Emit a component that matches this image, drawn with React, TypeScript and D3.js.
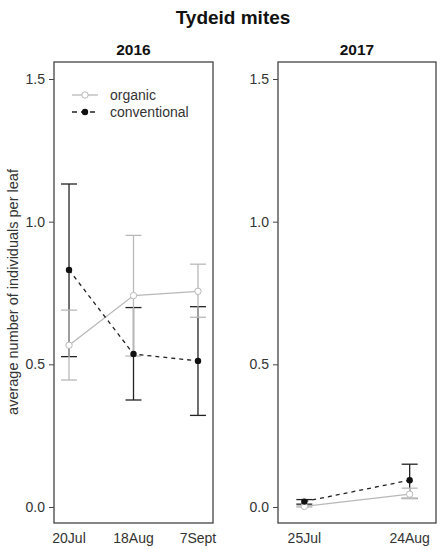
import React, { useEffect, useRef } from 'react';
import * as d3 from 'd3';

// 2016 panel
const dates2016 = ['20Jul', '18Aug', '7Sept'];
const organic2016 = [0.567, 0.741, 0.756];
const organic2016Lo = [0.445, 0.529, 0.665];
const organic2016Hi = [0.69, 0.952, 0.851];
const conv2016 = [0.831, 0.536, 0.512];
const conv2016Lo = [0.527, 0.375, 0.321];
const conv2016Hi = [1.132, 0.699, 0.702];

// 2017 panel
const dates2017 = ['25Jul', '24Aug'];
const organic2017 = [0.002, 0.045];
const organic2017Lo = [0.0, 0.03];
const organic2017Hi = [0.004, 0.066];
const conv2017 = [0.019, 0.094];
const conv2017Lo = [0.01, 0.03];
const conv2017Hi = [0.026, 0.15];

const yTicks = [0, 0.5, 1.0, 1.5];
const seriesNames = ['organic', 'conventional'];

const GREY = '#b8b8b8';
const DARK = '#111';
const FONT = 'Liberation Sans, Arial, sans-serif';

interface Series {
  values: number[];
  lo: number[];
  hi: number[];
}

const App: React.FC = () => {
  const svgRef = useRef<SVGSVGElement>(null);

  useEffect(() => {
    if (!svgRef.current) return;
    const svg = d3.select(svgRef.current);
    svg.selectAll('*').remove();

    const top = 62;
    const bottom = 523;

    const yScale = d3.scaleLinear().domain([0, 1.5]).range([507, 79]);

    const drawPanel = (
      left: number,
      right: number,
      title: string,
      dates: string[],
      pad: number,
      organic: Series,
      conv: Series,
      legend: boolean
    ) => {
      const g = svg.append('g');
      const idx = dates.map((_, i) => i);
      const xScale = d3.scaleLinear()
        .domain([-pad, dates.length - 1 + pad])
        .range([left, right]);

      // box
      g.append('rect')
        .attr('x', left)
        .attr('y', top)
        .attr('width', right - left)
        .attr('height', bottom - top)
        .attr('fill', 'none')
        .attr('stroke', '#444')
        .attr('stroke-width', 1.3);

      // panel title
      g.append('text')
        .attr('x', (left + right) / 2)
        .attr('y', 55)
        .attr('text-anchor', 'middle')
        .style('font-family', FONT)
        .style('font-weight', 'bold')
        .style('font-size', '15.5px')
        .style('fill', '#111')
        .text(title);

      // y axis
      const yAxis = g.append('g')
        .attr('transform', `translate(${left},0)`)
        .call(d3.axisLeft(yScale).tickValues(yTicks).tickFormat(d3.format('.1f')).tickSize(5).tickPadding(4));
      yAxis.select('.domain').remove();
      yAxis.selectAll('line').attr('stroke', '#444');
      yAxis.selectAll('text')
        .style('font-family', FONT)
        .style('font-size', '14px')
        .style('fill', '#333');

      // x labels
      g.selectAll('.xlab')
        .data(dates)
        .enter()
        .append('text')
        .attr('x', (_, i) => xScale(i))
        .attr('y', 543)
        .attr('text-anchor', 'middle')
        .style('font-family', FONT)
        .style('font-size', '14px')
        .style('fill', '#333')
        .text(d => d);

      const capW = 8;
      const drawBars = (s: Series, color: string) => {
        idx.forEach(i => {
          const x = xScale(i);
          g.append('line')
            .attr('x1', x).attr('x2', x)
            .attr('y1', yScale(s.hi[i])).attr('y2', yScale(s.lo[i]))
            .attr('stroke', color).attr('stroke-width', 1.3);
          [s.hi[i], s.lo[i]].forEach(v => {
            g.append('line')
              .attr('x1', x - capW).attr('x2', x + capW)
              .attr('y1', yScale(v)).attr('y2', yScale(v))
              .attr('stroke', color).attr('stroke-width', 1.3);
          });
        });
      };

      const line = d3.line<number>()
        .x(i => xScale(i))
        .y(i => 0);

      drawBars(conv, '#222');
      drawBars(organic, GREY);

      // organic line + points
      g.append('path')
        .datum(idx)
        .attr('fill', 'none')
        .attr('stroke', GREY)
        .attr('stroke-width', 1.3)
        .attr('d', line.y(i => yScale(organic.values[i])));

      g.append('path')
        .datum(idx)
        .attr('fill', 'none')
        .attr('stroke', '#222')
        .attr('stroke-width', 1.3)
        .attr('stroke-dasharray', '4,4')
        .attr('d', line.y(i => yScale(conv.values[i])));

      g.selectAll('.org-dot')
        .data(idx)
        .enter()
        .append('circle')
        .attr('cx', i => xScale(i))
        .attr('cy', i => yScale(organic.values[i]))
        .attr('r', 3.2)
        .attr('fill', '#fff')
        .attr('stroke', GREY)
        .attr('stroke-width', 1);

      g.selectAll('.conv-dot')
        .data(idx)
        .enter()
        .append('circle')
        .attr('cx', i => xScale(i))
        .attr('cy', i => yScale(conv.values[i]))
        .attr('r', 3.2)
        .attr('fill', DARK);

      if (legend) {
        const lg = g.append('g').attr('transform', `translate(${left + 18}, 95)`);
        seriesNames.forEach((name, k) => {
          const y = k * 17;
          const isOrg = k === 0;
          lg.append('line')
            .attr('x1', 0).attr('x2', 26)
            .attr('y1', y).attr('y2', y)
            .attr('stroke', isOrg ? GREY : '#222')
            .attr('stroke-width', 1.3)
            .attr('stroke-dasharray', isOrg ? null : '5,4');
          lg.append('circle')
            .attr('cx', 13).attr('cy', y).attr('r', 3.2)
            .attr('fill', isOrg ? '#fff' : DARK)
            .attr('stroke', isOrg ? GREY : 'none');
          lg.append('text')
            .attr('x', 38).attr('y', y)
            .attr('dy', '0.35em')
            .style('font-family', FONT)
            .style('font-size', '14px')
            .style('fill', '#333')
            .text(name);
        });
      }
    };

    drawPanel(54, 213, '2016', dates2016, 0.233,
      { values: organic2016, lo: organic2016Lo, hi: organic2016Hi },
      { values: conv2016, lo: conv2016Lo, hi: conv2016Hi }, true);

    drawPanel(278, 436, '2017', dates2017, 0.25,
      { values: organic2017, lo: organic2017Lo, hi: organic2017Hi },
      { values: conv2017, lo: conv2017Lo, hi: conv2017Hi }, false);

    // main title
    svg.append('text')
      .attr('x', 233)
      .attr('y', 24)
      .attr('text-anchor', 'middle')
      .style('font-family', FONT)
      .style('font-weight', 'bold')
      .style('font-size', '19px')
      .style('fill', '#111')
      .text('Tydeid mites');

    // y axis title
    svg.append('text')
      .attr('transform', `translate(13, 292) rotate(-90)`)
      .attr('text-anchor', 'middle')
      .attr('dy', '0.35em')
      .style('font-family', FONT)
      .style('font-size', '14.5px')
      .style('fill', '#333')
      .text('average number of individuals per leaf');
  }, []);

  return (
    <svg
      ref={svgRef}
      width={443}
      height={550}
      style={{ position: 'absolute', left: 0, top: 0, background: '#fff' }}
    />
  );
};

export default App;
